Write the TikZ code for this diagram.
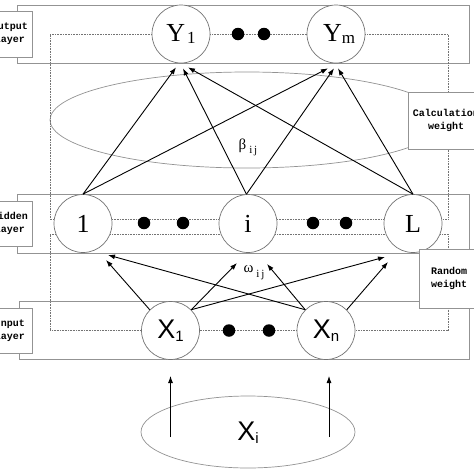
\documentclass[tikz,border=0pt]{standalone}
\usepackage{fontspec}
\setmainfont{Liberation Serif}
\newfontfamily\sansf{Liberation Sans}
\newfontfamily\monof{Liberation Mono}
\usetikzlibrary{arrows.meta,calc,shapes.geometric}
\begin{document}
\begin{tikzpicture}[x=1pt,y=-1pt,
  layerbox/.style={draw=gray!85, line width=0.8pt},
  labelbox/.style={draw=gray!85, fill=white, line width=0.8pt, font=\monof\bfseries\fontsize{10}{13}\selectfont, align=center, inner sep=0pt},
  neuron/.style={circle, draw=gray!90!black, fill=white, minimum size=58pt, inner sep=0pt, line width=0.7pt},
  dotline/.style={densely dotted, draw=gray!90!black, line width=0.6pt},
  bigdot/.style={circle, fill=black, minimum size=12.5pt, inner sep=0pt},
  arr/.style={-{Latex[length=7pt,width=5pt]}, line width=0.9pt},
  ellip/.style={draw=gray!85, line width=0.7pt},
  serifbig/.style={font=\fontsize{26}{26}\selectfont},
  sansbig/.style={font=\sansf\fontsize{27}{27}\selectfont},
  greek/.style={inner sep=0pt}
  ]
\useasboundingbox (0,0) rectangle (474,474);
\fill[white] (0,0) rectangle (474,474);

% layer boxes
\draw[layerbox] (17,5) rectangle (469,63);
\draw[layerbox] (17,194) rectangle (469,253);
\draw[layerbox] (19,301) rectangle (469,359);

% big ellipse
\draw[ellip] (247,120) ellipse [x radius=197, y radius=48];

% neurons
\node[neuron, serifbig] (Y1) at (181,34) {Y\hspace{2pt}{\fontsize{17}{17}\selectfont\raisebox{-2pt}{1}}};
\node[neuron, serifbig] (Ym) at (336,34) {\hspace{6pt}Y{\fontsize{17}{17}\selectfont\raisebox{-2pt}{m}}};
\node[neuron, serifbig] (n1) at (83,223.5) {1};
\node[neuron, serifbig] (ni) at (248,223.5) {i};
\node[neuron, serifbig] (L) at (413,223.5) {L};
\node[neuron, sansbig] (X1) at (170.5,330.5) {X{\fontsize{15}{15}\selectfont\raisebox{-3pt}{1}}};
\node[neuron, sansbig] (Xn) at (326,330.5) {X{\fontsize{15}{15}\selectfont\raisebox{-3pt}{n}}};

% helper coordinates for the dotted loops
\coordinate (lx) at (50,0);
\coordinate (rx) at (448,0);

% dotted lines
\draw[dotline] (Y1.east) -- (Ym.west);
\draw[dotline] (n1.9) -- (ni.171);
\draw[dotline] (n1.339) -- (ni.201);
\draw[dotline] (ni.9) -- (L.171);
\draw[dotline] (ni.339) -- (L.201);
\draw[dotline] (X1.east) -- (Xn.west);
\draw[dotline] (Y1.west) -| (lx |- n1.171) -- (n1.171);
\draw[dotline] (n1.201) -| (lx |- X1.west) -- (X1.west);
\draw[dotline] (Ym.east) -| (rx |- L.9) -- (L.9);
\draw[dotline] (L.339) -| (rx |- Xn.east) -- (Xn.east);

% dots
\node[bigdot] (d1) at (238,34) {};
\node[bigdot] (d2) at (264,34) {};
\node[bigdot] (d3) at (144,223) {};
\node[bigdot] (d4) at (183,223) {};
\node[bigdot] (d5) at (313,223) {};
\node[bigdot] (d6) at (346,223) {};
\node[bigdot] (d7) at (229,330.5) {};
\node[bigdot] (d8) at (269,330.5) {};

% layer labels
\node[labelbox, minimum width=44pt, minimum height=46pt] (lo) at (10,34) {Output\\layer};
\node[labelbox, minimum width=44pt, minimum height=45pt] (lh) at (10,223.5) {Hidden\\layer};
\node[labelbox, minimum width=44pt, minimum height=45pt] (lin) at (10,330.5) {Input\\layer};

% hidden -> output
\draw[arr] (n1.north) -- ([shift={(-5,4)}]Y1.south);
\draw[arr] (ni.93) -- ([shift={(2,5)}]Y1.south);
\draw[arr] (L.north) -- ([shift={(7,4)}]Y1.south);
\draw[arr] (n1.north) -- ([shift={(-8,5)}]Ym.south);
\draw[arr] (ni.93) -- ([shift={(-2,5)}]Ym.south);
\draw[arr] (L.north) -- ([shift={(2,5)}]Ym.south);

% input -> hidden
\draw[arr] (X1.135) -- ([shift={(23,36.5)}]n1.center);
\draw[arr] (X1.45) -- ([shift={(-11,39.5)}]ni.center);
\draw[arr] (X1.45) -- ([shift={(-28,33.5)}]L.center);
\draw[arr] (Xn.135) -- ([shift={(25,31.5)}]n1.center);
\draw[arr] (Xn.135) -- ([shift={(19,40.5)}]ni.center);
\draw[arr] (Xn.45) -- ([shift={(-25,38.5)}]L.center);

% weight labels
\node[greek] (beta) at (248,147) {{\fontsize{15}{15}\selectfont β}\hspace{3pt}{\fontsize{11}{11}\selectfont\raisebox{-4pt}{i\,j}}};
\node[greek] (omega) at (254,273) {{\fontsize{15}{15}\selectfont ω}\hspace{3pt}{\fontsize{11}{11}\selectfont\raisebox{-5pt}{i\,j}}};

% weight boxes
\node[labelbox, minimum width=76pt, minimum height=57pt] (calc) at (446,120.5) {Calculation\\weight};
\node[labelbox, minimum width=60pt, minimum height=59pt] (rand) at (449,278.5) {Random\\weight};

% input source
\node[ellip, shape=ellipse, minimum width=214pt, minimum height=72pt, inner sep=0pt] (src) at (248,432) {};
\node[font=\sansf\fontsize{27}{27}\selectfont] (xi) at (248,433) {X{\fontsize{15}{15}\selectfont\raisebox{-3pt}{i}}};
\coordinate (a1s) at (170.5,437);
\coordinate (a1e) at (170.5,376);
\coordinate (a2s) at (329,437);
\coordinate (a2e) at (329,376);
\draw[arr, line width=0.8pt] (a1s) -- (a1e);
\draw[arr, line width=0.8pt] (a2s) -- (a2e);
\end{tikzpicture}
\end{document}
